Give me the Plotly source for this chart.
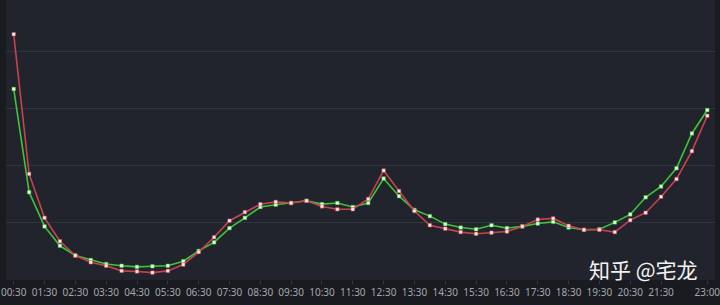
import plotly.graph_objects as go

times = []
h, m = 0, 30
for _ in range(46):
    times.append(f"{h:02d}:{m:02d}")
    m += 30
    if m == 60:
        h, m = h + 1, 0

red_vals = [431, 186, 109, 68, 43, 31, 25, 16, 15, 13, 16, 27, 49, 75, 104, 119,
            133, 137, 135, 139, 129, 124, 124, 142, 192, 156, 121, 96, 90, 84, 81,
            83, 85, 94, 106, 108, 95, 88, 88, 84, 105, 118, 146, 177, 226, 288]
green_vals = [335, 154, 94, 60, 43, 35, 28, 25, 23, 24, 25, 33, 51, 66, 91, 109,
              128, 132, 135, 139, 133, 135, 128, 135, 178, 147, 123, 112, 98, 92, 89,
              96, 91, 94, 99, 102, 92, 88, 89, 101, 115, 145, 164, 196, 257, 298]

tick_labels = [t for t in times if t.endswith(":30") and t <= "21:30"] + ["23:00"]
tick_idx = [times.index(t) for t in tick_labels]
x = list(range(len(times)))

fig = go.Figure()
fig.add_trace(go.Scatter(x=x, y=green_vals, mode="lines+markers",
                         line=dict(color="#3fc43a", width=1.6),
                         marker=dict(symbol="square", size=3.5, color="#e8ffe0",
                                     line=dict(color="#3fc43a", width=0.5)),
                         hoverinfo="skip"))
fig.add_trace(go.Scatter(x=x, y=red_vals, mode="lines+markers",
                         line=dict(color="#c8424f", width=1.6),
                         marker=dict(symbol="square", size=3.5, color="#ffe8ea",
                                     line=dict(color="#c8424f", width=0.5)),
                         hoverinfo="skip"))

fig.update_layout(
    width=720, height=305,
    margin=dict(l=6, r=5, t=0, b=25),
    paper_bgcolor="#191b20",
    plot_bgcolor="#21242c",
    showlegend=False,
    xaxis=dict(range=[-0.5, 45.5], tickmode="array", tickvals=tick_idx,
               ticktext=tick_labels, showgrid=False, zeroline=False,
               ticks="outside", ticklen=3, tickcolor="#3a3e46",
               ticklabeloverflow="allow",
               tickfont=dict(family="Noto Sans", size=10, color="#a3a7ae"),
               showline=False, fixedrange=True),
    yaxis=dict(range=[0, 491], tickvals=[100, 200, 300, 400], showticklabels=False,
               gridcolor="#30343c", gridwidth=1, zeroline=False, showline=False,
               fixedrange=True),
    annotations=[dict(text="知乎 @宅龙", xref="paper", yref="paper",
                      x=0.979, y=0.04, xanchor="right", yanchor="middle",
                      showarrow=False,
                      font=dict(family="Noto Sans CJK SC", size=21, color="#f2f2f2"))],
)

fig.write_html("out.html")
